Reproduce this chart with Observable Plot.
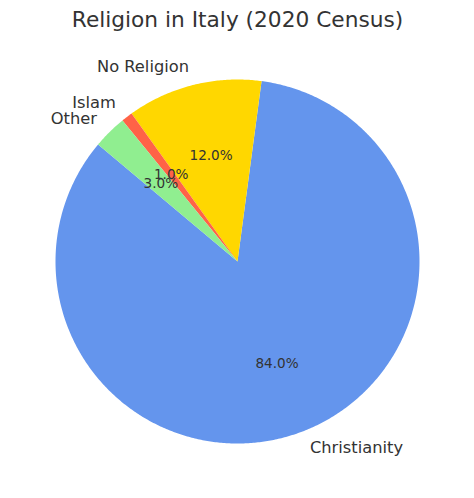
<!DOCTYPE html>
<html><head><meta charset="utf-8">
<script src="https://cdn.jsdelivr.net/npm/d3@7"></script>
<script src="https://cdn.jsdelivr.net/npm/@observablehq/plot@0.6"></script>
<style>body{margin:0;background:#fff;}</style>
</head><body><div id="chart"></div>
<script>
const religions = ["Christianity", "No Religion", "Islam", "Other"];
const shares = [84, 12, 1, 3];
const colors = ["#6495ED", "#FFD700", "#FF6347", "#90EE90"];
const title = "Religion in Italy (2020 Census)";
const startAngle = 140;

const total = d3.sum(shares);
const rad = d => d * Math.PI / 180;
let acc = startAngle;
const slices = religions.map((r, i) => {
  const a0 = acc, a1 = acc + shares[i] / total * 360;
  acc = a1;
  return {religion: r, share: shares[i], a0, a1, mid: (a0 + a1) / 2};
});
const wedge = [];
for (const s of slices) {
  wedge.push({religion: s.religion, x: 0, y: 0});
  const n = Math.max(4, Math.ceil((s.a1 - s.a0) / 0.5));
  for (let k = 0; k <= n; k++) {
    const a = rad(s.a0 + (s.a1 - s.a0) * k / n);
    wedge.push({religion: s.religion, x: Math.cos(a), y: Math.sin(a)});
  }
  wedge.push({religion: s.religion, x: 0, y: 0});
}
const labels = slices.map(s => ({religion: s.religion, x: 1.1 * Math.cos(rad(s.mid)), y: 1.1 * Math.sin(rad(s.mid))}));
const pcts = slices.map(s => ({text: (s.share / total * 100).toFixed(1) + "%", x: 0.6 * Math.cos(rad(s.mid)), y: 0.6 * Math.sin(rad(s.mid))}));

const chart = Plot.plot({
  width: 474, height: 498, margin: 0,
  x: {domain: [-1.3022, 1.3022], axis: null},
  y: {domain: [-1.3022, 1.4341], axis: null},
  color: {domain: religions, range: colors},
  style: {fontFamily: "DejaVu Sans", background: "#fff"},
  marks: [
    Plot.line(wedge, {x: "x", y: "y", z: "religion", fill: "religion", stroke: "none"}),
    Plot.text(labels.filter(d => d.x > 0), {x: "x", y: "y", text: "religion", textAnchor: "start", fontSize: 16.3, fill: "#333"}),
    Plot.text(labels.filter(d => d.x <= 0), {x: "x", y: "y", text: "religion", textAnchor: "end", fontSize: 16.3, fill: "#333"}),
    Plot.text(pcts, {x: "x", y: "y", text: "text", fontSize: 13.6, fill: "#333"}),
    Plot.text([title], {frameAnchor: "top", lineAnchor: "middle", dy: 20, fontSize: 21.7, fill: "#333"})
  ]
});
document.getElementById("chart").append(chart);
</script>
</body></html>
